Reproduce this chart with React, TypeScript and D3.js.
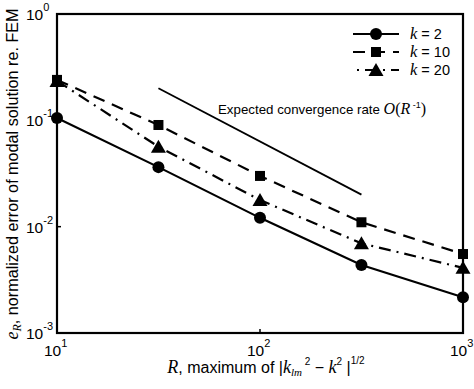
import * as d3 from "d3";

const rValues = [10, 31.6, 100, 316, 1000];
const seriesK = ["2", "10", "20"];
const errK2 = [0.105, 0.0363, 0.0121, 0.00436, 0.00217];
const errK10 = [0.24, 0.0904, 0.030, 0.011, 0.00553];
const errK20 = [0.235, 0.0565, 0.0178, 0.00697, 0.0041];
const rateLineR = [31.6, 316];
const rateLineErr = [0.2, 0.02];
const xTickExp = [1, 2, 3];
const yTickExp = [0, -1, -2, -3];

const W = 474;
const H = 389;
const margin = { top: 14, right: 11, bottom: 56, left: 57 };

const sans = "'Liberation Sans', Arial, sans-serif";
const serif = "'Liberation Serif', 'Times New Roman', serif";

function Marker({ kind, x, y }: { kind: number; x: number; y: number }) {
  if (kind === 0) return <circle cx={x} cy={y} r={6} fill="#000" />;
  if (kind === 1) return <rect x={x - 5} y={y - 5} width={10} height={10} fill="#000" />;
  return <path d={`M${x},${y - 7}L${x + 7.5},${y + 6}L${x - 7.5},${y + 6}Z`} fill="#000" />;
}

export default function App() {
  const x = d3
    .scaleLog()
    .domain([10, 1000])
    .range([margin.left, W - margin.right]);
  const y = d3
    .scaleLog()
    .domain([1e-3, 1])
    .range([H - margin.bottom, margin.top]);

  const series = [errK2, errK10, errK20];
  const dashes = ["none", "12,8", "12,6,2,6"];

  const line = d3
    .line<number>()
    .x((_, i) => x(rValues[i]))
    .y((d) => y(d));

  const x0 = x(10);
  const x1 = x(1000);
  const y0 = y(1e-3);
  const y1 = y(1);

  return (
    <svg
      width={W}
      height={H}
      style={{ position: "absolute", left: 0, top: 0, background: "#fff" }}
    >
      {/* series */}
      {series.map((s, i) => (
        <g key={i}>
          <path
            d={line(s) ?? ""}
            fill="none"
            stroke="#000"
            strokeWidth={2.2}
            strokeDasharray={dashes[i]}
          />
          {s.map((v, j) => (
            <Marker key={j} kind={i} x={x(rValues[j])} y={y(v)} />
          ))}
        </g>
      ))}

      {/* expected rate line */}
      <line
        x1={x(rateLineR[0])}
        y1={y(rateLineErr[0])}
        x2={x(rateLineR[1])}
        y2={y(rateLineErr[1])}
        stroke="#000"
        strokeWidth={1.8}
      />
      <text x={218} y={114} fontFamily={sans} fontSize={13.3}>
        Expected convergence rate{" "}
        <tspan fontFamily={serif} fontStyle="italic" fontSize={16}>O</tspan>
        <tspan fontFamily={serif} fontSize={16}>(</tspan>
        <tspan fontFamily={serif} fontStyle="italic" fontSize={16}>R</tspan>
        <tspan fontSize={9} dy={-6}> -1</tspan>
        <tspan fontFamily={serif} fontSize={16} dy={6}>)</tspan>
      </text>

      {/* frame */}
      <rect
        x={x0}
        y={y1}
        width={x1 - x0}
        height={y0 - y1}
        fill="none"
        stroke="#000"
        strokeWidth={2.2}
      />

      {/* ticks */}
      {xTickExp.map((e) => (
        <g key={e}>
          <line x1={x(10 ** e)} x2={x(10 ** e)} y1={y0} y2={y0 - 4} stroke="#000" strokeWidth={1.5} />
          <text x={x(10 ** e) - 13} y={356} fontFamily={sans} fontSize={15.5}>
            10<tspan fontSize={11} dy={-9}>{e}</tspan>
          </text>
        </g>
      ))}
      {yTickExp.map((e) => (
        <g key={e}>
          <line x1={x0} x2={x0 + 4} y1={y(10 ** e)} y2={y(10 ** e)} stroke="#000" strokeWidth={1.5} />
          <text x={26} y={y(10 ** e) + 6} fontFamily={sans} fontSize={15.5}>
            10<tspan fontSize={11} dy={-9}>{e}</tspan>
          </text>
        </g>
      ))}

      {/* legend */}
      {seriesK.map((k, i) => {
        const ly = 34 + i * 18;
        return (
          <g key={k}>
            <line
              x1={353}
              x2={399}
              y1={ly}
              y2={ly}
              stroke="#000"
              strokeWidth={2.2}
              strokeDasharray={dashes[i]}
              strokeDashoffset={i === 2 ? 14 : 0}
            />
            <Marker kind={i} x={376} y={ly} />
            <text x={410} y={ly + 5} fontFamily={sans} fontSize={14.5}>
              <tspan fontFamily={serif} fontStyle="italic" fontSize={16.5}>k</tspan>
              {" = " + k}
            </text>
          </g>
        );
      })}

      {/* x title */}
      <text x={266} y={373} textAnchor="middle" fontFamily={sans} fontSize={16}>
        <tspan fontFamily={serif} fontStyle="italic" fontSize={18}>R</tspan>
        , maximum of |
        <tspan fontFamily={serif} fontStyle="italic" fontSize={18}>k</tspan>
        <tspan fontFamily={serif} fontStyle="italic" fontSize={11} dy={3}>lm</tspan>
        <tspan fontSize={10} dy={-11}> 2</tspan>
        <tspan dy={8}> − </tspan>
        <tspan fontFamily={serif} fontStyle="italic" fontSize={18}>k</tspan>
        <tspan fontSize={10} dy={-8}>2</tspan>
        <tspan dy={8}> |</tspan>
        <tspan fontSize={10} dy={-9}>1/2</tspan>
      </text>

      {/* y title */}
      <text
        transform={`translate(18,174) rotate(-90)`}
        textAnchor="middle"
        fontFamily={sans}
        fontSize={16.2}
      >
        <tspan fontFamily={serif} fontStyle="italic" fontSize={18}>e</tspan>
        <tspan fontFamily={serif} fontStyle="italic" fontSize={12} dy={3}>R</tspan>
        <tspan dy={-3}>, normalized error of modal solution re. FEM</tspan>
      </text>
    </svg>
  );
}
